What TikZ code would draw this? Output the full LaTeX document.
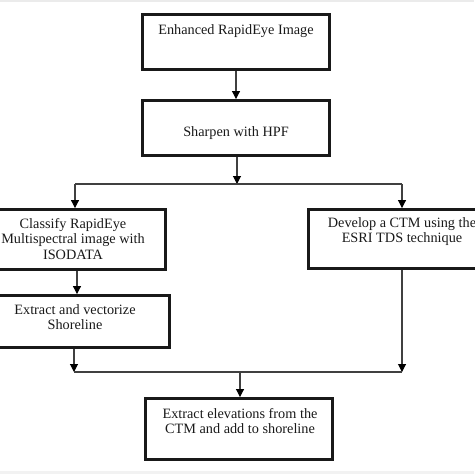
\documentclass[tikz,border=0pt]{standalone}
\usepackage{fontspec}
\setmainfont{Liberation Serif}
\usetikzlibrary{arrows.meta}
\begin{document}
\begin{tikzpicture}[x=0.75pt,y=-0.75pt,
  box/.style={draw=black!90,line width=2.2pt,rectangle,inner sep=0pt},
  txt/.style={inner sep=0pt,anchor=north,align=center,text=black!90,font=\fontsize{10.7pt}{11.6pt}\selectfont},
  conn/.style={draw=black!75,line width=0.8pt},
  arr/.style={conn,-{Triangle[length=6pt,width=6pt,black]}}]
\useasboundingbox (0,0) rectangle (474,474);
\fill[black!8] (0,0) rectangle (474,2);
\fill[black!5] (0,471) rectangle (474,474);
% boxes
\node[box,minimum width=140.25pt,minimum height=41.25pt] (b1) at (236,42) {};
\node[box,minimum width=140.25pt,minimum height=41.25pt] (b2) at (236,128) {};
\node[box,minimum width=138pt,minimum height=45pt] (b3) at (73.5,239.5) {};
\node[box,minimum width=137.25pt,minimum height=44.25pt] (b4) at (400,239) {};
\node[box,minimum width=142.5pt,minimum height=39pt] (b5) at (74.5,321.5) {};
\node[box,minimum width=140.25pt,minimum height=45.75pt] (b6) at (239,429) {};
% texts
\node[txt] (t1) at (236,24.5) {Enhanced RapidEye Image};
\node[txt] (t2) at (236,126.5) {Sharpen with HPF};
\node[txt] (t3) at (73,218) {Classify RapidEye\\Multispectral image with\\ISODATA};
\node[txt] (t4) at (402,217) {Develop a CTM using the\\ESRI TDS technique};
\node[txt] (t5) at (75,304) {Extract and vectorize\\Shoreline};
\node[txt] (t6) at (240,408) {Extract elevations from the\\CTM and add to shoreline};
% junction coordinates
\coordinate (j1) at (237,184);
\coordinate (jL) at (75,184);
\coordinate (jR) at (402,184);
\coordinate (k3) at (77,271);
\coordinate (j2L) at (74,372);
\coordinate (j2R) at (402,372);
\coordinate (j2M) at (240,372);
% connectors
\draw[arr] (b1) -- (b2);
\draw[arr] (b2.south -| j1) -- (j1);
\draw[conn] (jL) -- (jR);
\draw[arr] (jL) -- (jL |- b3.north);
\draw[arr] (jR) -- (jR |- b4.north);
\draw[arr] (b3.south -| k3) -- (k3 |- b5.north);
\draw[arr] (b5.south -| j2L) -- (j2L);
\draw[arr] (b4.south -| j2R) -- (j2R);
\draw[conn] (j2L) -- (j2R);
\draw[arr] (j2M) -- (j2M |- b6.north);
\end{tikzpicture}
\end{document}
